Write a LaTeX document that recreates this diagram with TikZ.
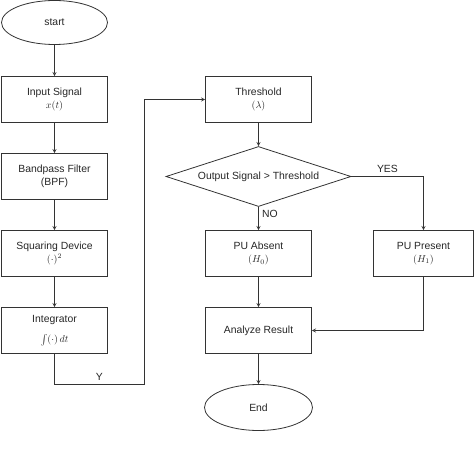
\documentclass[tikz,border=0pt]{standalone}
\usepackage{amsmath, amssymb}
\usepackage{fontspec}
\setmainfont{Liberation Sans}
\usepackage{xcolor}
\usepackage{tikz}
\usetikzlibrary{shapes.geometric, arrows, positioning}
\tikzset{
    startstop/.style={ellipse, minimum width=106pt, minimum height=44pt, text centered, draw=black!80, line width=0.8pt},
    process/.style={rectangle, minimum width=106pt, minimum height=46pt, text centered, align=center, draw=black!80, line width=0.8pt},
    decision/.style={diamond, aspect=3.1, minimum width=185pt, minimum height=60pt, inner sep=0pt, text centered, draw=black!80, line width=0.8pt},
    arrow/.style={line width=0.8pt,->,>=stealth, draw=black!80}
}
\begin{document}
\begin{tikzpicture}[node distance=77pt, font=\fontsize{10.4}{13}\selectfont, text=black!85]
    \useasboundingbox (0,0) rectangle (474pt,-452pt);
    \node (start) [startstop] at (54.5pt,-22.5pt) {start};
    \node (input) [process, below of=start] {Input Signal\\$x(t)$};
    \node (bpf) [process, below of=input] {Bandpass Filter\\(BPF)};
    \node (square) [process, below of=bpf] {Squaring Device\\$(\cdot)^2$};
    \node (integ) [process, below of=square] {Integrator\\[7pt]$\int(\cdot)\,dt$};
    \node (thresh) [process, right of=input, node distance=204pt] {Threshold\\$(\lambda)$};
    \node (test) [decision, below of=thresh] {Output Signal > Threshold};
    \node (absent) [process, below of=test] {PU Absent\\$(H_0)$};
    \node (present) [process, right of=absent, node distance=165pt, minimum width=100pt] {PU Present\\$(H_1)$};
    \node (result) [process, below of=absent] {Analyze Result};
    \node (end) [startstop, below of=result, minimum width=108pt, minimum height=46pt] {End};
    
    \draw [arrow] (start) -- (input);
    \draw [arrow] (input) -- (bpf);
    \draw [arrow] (bpf) -- (square);
    \draw [arrow] (square) -- (integ);
    \draw [arrow] (integ.south) -- ++(0,-30pt) -| node[above, pos=0.25] {Y} ([xshift=-61pt]thresh.west) -- (thresh.west);
    \draw [arrow] (thresh) -- (test);
    \draw [arrow] (test) -- node[right, pos=0.3] {NO} (absent);
    \draw [arrow] (test.east) -| node[above, pos=0.25] {YES} (present.north);
    \draw [arrow] (absent) -- (result);
    \draw [arrow] (present.south) |- (result.east);
    \draw [arrow] (result) -- (end);
\end{tikzpicture}
\end{document}
